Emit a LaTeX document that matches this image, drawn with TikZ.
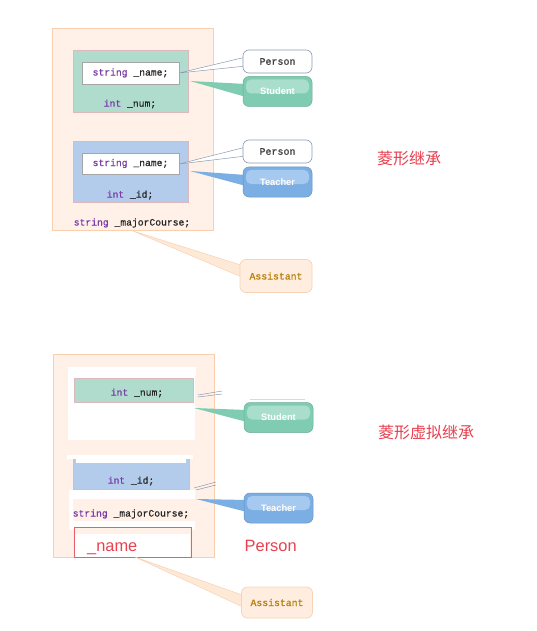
\documentclass[tikz,border=0pt]{standalone}
\usepackage{fontspec}
\newfontfamily\codefont[FakeBold=0.8]{Liberation Mono}
\newfontfamily\sansf{Liberation Sans}
\newfontfamily\cjk{Noto Sans CJK SC}
\definecolor{peachfill}{HTML}{FFF1E8}
\definecolor{peachdraw}{HTML}{F9CFAE}
\definecolor{boxgreen}{HTML}{B0DCCD}
\definecolor{boxblue}{HTML}{B4CCEC}
\definecolor{stfill}{HTML}{7FCCB2}
\definecolor{stlight}{HTML}{A8DECB}
\definecolor{stdraw}{HTML}{6DB8A0}
\definecolor{tefill}{HTML}{7BAEE2}
\definecolor{telight}{HTML}{A6C9EF}
\definecolor{tedraw}{HTML}{6A9ED6}
\definecolor{pedraw}{HTML}{8A9AB0}
\definecolor{asfill}{HTML}{FFEEE0}
\definecolor{asdraw}{HTML}{F8D2B4}
\definecolor{astext}{HTML}{B8800A}
\definecolor{redtxt}{HTML}{E8404F}
\definecolor{kw}{HTML}{7A3DA8}
\definecolor{pinkedge}{HTML}{DDB8BC}
\begin{document}
\begin{tikzpicture}[x=1pt,y=-1pt,
  outerbox/.style={fill=peachfill, draw=peachdraw, line width=0.8pt},
  codetxt/.style={font=\codefont\fontsize{9.7}{11}\selectfont, inner sep=0pt, text=black!85},
  whitebox/.style={fill=white, draw=black!35, line width=0.5pt},
  callout/.style={rounded corners=6pt, minimum width=69pt, inner sep=0pt},
  personbox/.style={callout, fill=white, draw=pedraw, line width=0.6pt, minimum height=23pt,
    font=\codefont\fontsize{10}{12}\selectfont, text=black!75},
  glossy/.style 2 args={callout, fill=#1, draw=#1!85!black, line width=0.5pt, minimum height=30pt,
    text=white, font=\sansf\bfseries\fontsize{9.3}{11}\selectfont,
    path picture={\fill[#2, rounded corners=5pt] ([xshift=3pt,yshift=-3pt]path picture bounding box.north west) rectangle ([xshift=-3pt,yshift=-2pt]path picture bounding box.east);}},
  studentbox/.style={glossy={stfill}{stlight}},
  teacherbox/.style={glossy={tefill}{telight}},
  assistbox/.style={callout, fill=asfill, draw=asdraw, line width=0.7pt, minimum height=33pt,
    font=\codefont\fontsize{9.8}{12}\selectfont, text=astext},
  persontail/.style={fill=white, draw=pedraw, line width=0.5pt},
  sttail/.style={fill=stfill},
  tetail/.style={fill=tefill},
  astail/.style={fill=asfill!80!peachdraw, draw=asdraw, line width=0.5pt},
  cjktxt/.style={font=\cjk\fontsize{16}{18}\selectfont, text=redtxt, inner sep=0pt},
  remnant/.style={draw=pedraw, line width=0.5pt}
]
\useasboundingbox[fill=white] (0,0) rectangle (537,631);

% ================= TOP: diamond inheritance =================
\draw[outerbox] (52,28) rectangle (213,230);
\draw[fill=boxgreen, draw=pinkedge, line width=0.4pt] (73,50) rectangle (188,112);
\draw[whitebox] (82,62) rectangle (179,84);
\node[codetxt] (n1) at (130.5,73) {\textcolor{kw}{string} \_name;};
\node[codetxt] (num1) at (130,104) {\textcolor{kw}{int} \_num;};
\draw[fill=boxblue, draw=pinkedge, line width=0.4pt] (73,141) rectangle (188,202);
\draw[whitebox] (82,153) rectangle (179,174);
\node[codetxt] (n2) at (130.5,163.5) {\textcolor{kw}{string} \_name;};
\node[codetxt] (id1) at (130,195) {\textcolor{kw}{int} \_id;};
\node[codetxt] (mc1) at (132,223) {\textcolor{kw}{string} \_majorCourse;};

% callout tips
\coordinate (tp1) at (179,73);
\coordinate (ts1) at (190,81);
\coordinate (tp2) at (179,164);
\coordinate (tt1) at (190,171);
\coordinate (ta1) at (133,231);

\fill[persontail] (tp1) -- (246,57) -- (246,66) -- cycle;
\fill[sttail] (ts1) -- (246,84) -- (246,97) -- cycle;
\fill[persontail] (tp2) -- (246,147) -- (246,156) -- cycle;
\fill[tetail] (tt1) -- (246,175) -- (246,186) -- cycle;
\fill[astail] (ta1) -- (244,266) -- (244,278) -- cycle;

\node[personbox] (p1) at (277.5,61.5) {Person};
\node[studentbox] (s1) at (277.5,91.5) {Student};
\node[personbox] (p2) at (277.5,151.5) {Person};
\node[teacherbox] (t1) at (277.5,182) {Teacher};
\node[assistbox, minimum width=72pt] (a1) at (276,276) {Assistant};

\node[cjktxt] (c1) at (409,158) {菱形继承};

% ================= BOTTOM: virtual diamond inheritance =================
\draw[outerbox] (53,354) rectangle (214,557);
\fill[white] (68,367) rectangle (195,440);
\draw[fill=boxgreen, draw=pinkedge, line width=0.4pt] (74,378) rectangle (193,402);
\fill[white] (76,367) rectangle (196,376);
\node[codetxt] (num2) at (137,393) {\textcolor{kw}{int} \_num;};
\draw[remnant] (198,395) -- (222,391);
\draw[remnant] (198,397) -- (222,394);
\draw[draw=black!15, line width=0.5pt] (250,399.5) -- (305,399.5);

\draw[fill=boxblue, draw=pinkedge, line width=0.4pt] (73,457) rectangle (189,489);
\fill[white] (67,455) rectangle (193,459);
\fill[white] (76,455) rectangle (186,463);
\node[codetxt] (id2) at (131,481) {\textcolor{kw}{int} \_id;};
\fill[white] (69,490) rectangle (195,530);
\fill[peachfill] (73,499) rectangle (195,521);
\node[codetxt] (mc2) at (131,514) {\textcolor{kw}{string} \_majorCourse;};
\draw[remnant] (194,488) -- (216,482);
\draw[remnant] (196,490) -- (216,485);

\fill[peachfill] (74,527) rectangle (191,534);
\fill[white] (75,534) rectangle (190,557);
\draw[draw=redtxt!85, line width=0.7pt] (74,527) rectangle (191,557);
\node[font=\sansf\fontsize{16.4}{18}\selectfont, text=redtxt, inner sep=0pt, anchor=base west] (nm) at (87,551.5) {\_name};
\node[font=\sansf\fontsize{16.4}{18}\selectfont, text=redtxt, inner sep=0pt, anchor=base west] (pr) at (244.5,551.5) {Person};

\coordinate (ts2) at (194,408);
\coordinate (tt2) at (196,499);
\coordinate (ta2) at (135,557);
\fill[sttail] (ts2) -- (247,410) -- (247,422) -- cycle;
\fill[tetail] (tt2) -- (247,500) -- (247,512) -- cycle;
\fill[astail] (ta2) -- (245,596) -- (245,608) -- cycle;

\node[studentbox] (s2) at (278.5,417.5) {Student};
\node[teacherbox] (t2) at (278.5,508) {Teacher};
\node[assistbox, minimum width=71pt, minimum height=31pt] (a2) at (277,602.5) {Assistant};

\node[cjktxt] (c2) at (426,432) {菱形虚拟继承};
\end{tikzpicture}
\end{document}
